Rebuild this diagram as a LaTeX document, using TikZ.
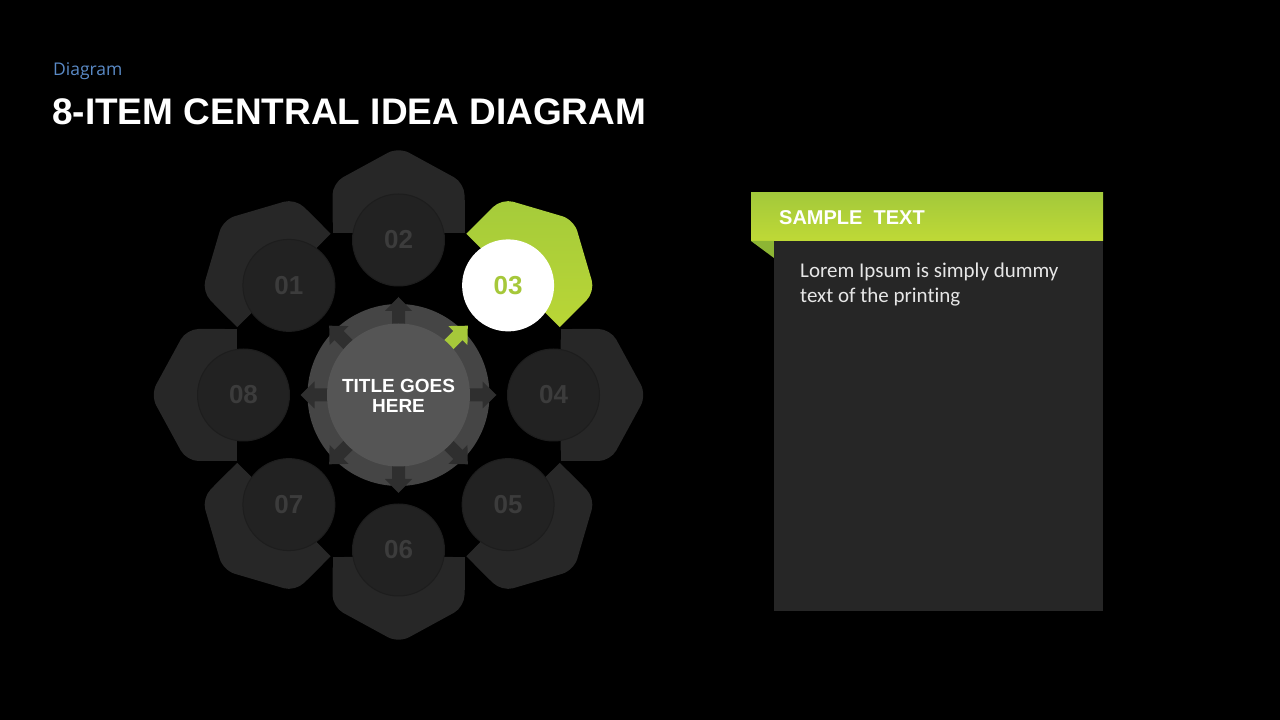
\documentclass[tikz,border=0pt]{standalone}
\usepackage{fontspec}
\setmainfont{Liberation Sans}
\newfontfamily\carlito[RawFeature={-liga;-clig;-dlig}]{Carlito}
\newfontfamily\opensans{Open Sans}
\usetikzlibrary{calc}
\definecolor{pentc}{HTML}{272727}
\definecolor{circc}{HTML}{222222}
\definecolor{circrim}{HTML}{1D1D1D}
\definecolor{numc}{HTML}{3C3C3C}
\definecolor{ringc}{HTML}{454545}
\definecolor{innerc}{HTML}{555555}
\definecolor{arrowc}{HTML}{2F2F2F}
\definecolor{greenA}{HTML}{BCD735}
\definecolor{greenB}{HTML}{9EC83C}
\definecolor{numgreen}{HTML}{A6C83A}
\definecolor{headtop}{HTML}{A3C93B}
\definecolor{headbot}{HTML}{BFD936}
\definecolor{foldc}{HTML}{8DB534}
\definecolor{panelc}{HTML}{262626}
\definecolor{bodytxt}{HTML}{E6E6E6}
\definecolor{subtitle}{HTML}{5A8AC6}
\begin{document}
\begin{tikzpicture}[x=1pt,y=1pt,
  itemcirc/.style={circle, minimum size=92pt, inner sep=0pt, fill=circc, draw=circrim, line width=1pt,
    font=\bfseries\fontsize{26}{26}\selectfont, text=numc},
  hubtext/.style={align=center, text=white, font=\bfseries\fontsize{19}{20}\selectfont, inner sep=0pt},
  titletext/.style={anchor=base west, inner sep=0pt},
  hubarrow/.style={fill=arrowc}]
\useasboundingbox (0,0) rectangle (1280,720);
\fill[black] (0,0) rectangle (1280,720);
\coordinate (C) at (398.5,325);

% titles
\node[titletext, text=subtitle, font=\opensans\fontsize{17.5}{18}\selectfont] (sub) at (53,644) {Diagram};
\node[titletext, text=white, font=\bfseries\fontsize{37}{37}\selectfont] (ttl) at (52,595) {8-ITEM CENTRAL IDEA DIAGRAM};

% dark pentagons
\foreach \a in {135,90,0,-45,-90,-135,180} {
  \begin{scope}[shift={(C)}, rotate=\a-90]
    \fill[pentc, rounded corners=12pt] (-66,162) -- (-66,212) -- (0,248) -- (66,212) -- (66,162) -- cycle;
    \fill[pentc] (-66,162) -- (-66,195) -- (66,195) -- (66,162) -- cycle;
  \end{scope}
}
% green pentagon (item 03)
\begin{scope}[shift={(C)}, rotate=-45]
  \clip[rounded corners=12pt] (-66,162) -- (-66,212) -- (0,248) -- (66,212) -- (66,162) -- cycle
     [sharp corners] (-66,162) -- (-66,195) -- (66,195) -- (66,162) -- cycle;
  \shade[bottom color=greenA, top color=greenB] (-80,150) rectangle (80,260);
\end{scope}

% item circles
\node[itemcirc] (i1) at ($(C)+(135:155)$) {01};
\node[itemcirc] (i2) at ($(C)+(90:155)$) {02};
\node[itemcirc, fill=white, draw=none, text=numgreen] (i3) at ($(C)+(45:155)$) {03};
\node[itemcirc] (i4) at ($(C)+(0:155)$) {04};
\node[itemcirc] (i5) at ($(C)+(-45:155)$) {05};
\node[itemcirc] (i6) at ($(C)+(-90:155)$) {06};
\node[itemcirc] (i7) at ($(C)+(-135:155)$) {07};
\node[itemcirc] (i8) at ($(C)+(180:155)$) {08};

% hub
\fill[ringc] (C) circle[radius=91];
\foreach \a in {135,90,0,-45,-90,-135,180} {
  \begin{scope}[shift={(C)}, rotate=\a]
    \fill[hubarrow] (40,-6.5) -- (84,-6.5) -- (84,-13.5) -- (98,0) -- (84,13.5) -- (84,6.5) -- (40,6.5) -- cycle;
  \end{scope}
}
\begin{scope}[shift={(C)}, rotate=45]
  \fill[hubarrow, fill=numgreen] (40,-6.5) -- (84,-6.5) -- (84,-13.5) -- (98,0) -- (84,13.5) -- (84,6.5) -- (40,6.5) -- cycle;
\end{scope}
\node[circle, fill=innerc, minimum size=143pt, inner sep=0pt] (hub) at (C) {};
\node[hubtext] (hubt) at ($(C)+(0,-1)$) {TITLE GOES\\HERE};

% right panel
\shade[top color=headtop, bottom color=headbot] (751,479) rectangle (1103,527);
\fill[foldc] (751,479) -- (774,479) -- (774,462) -- cycle;
\fill[panelc] (774,109) rectangle (1103,479);
\node[titletext, text=white, font=\bfseries\fontsize{20}{20}\selectfont] (head) at (779,495) {SAMPLE\ \ TEXT};
\node[titletext, text=bodytxt, font=\carlito\fontsize{21}{25}\selectfont] (l1) at (800,442) {Lorem Ipsum is simply dummy};
\node[titletext, text=bodytxt, font=\carlito\fontsize{21}{25}\selectfont] (l2) at (800,417) {text of the printing};
\end{tikzpicture}
\end{document}
